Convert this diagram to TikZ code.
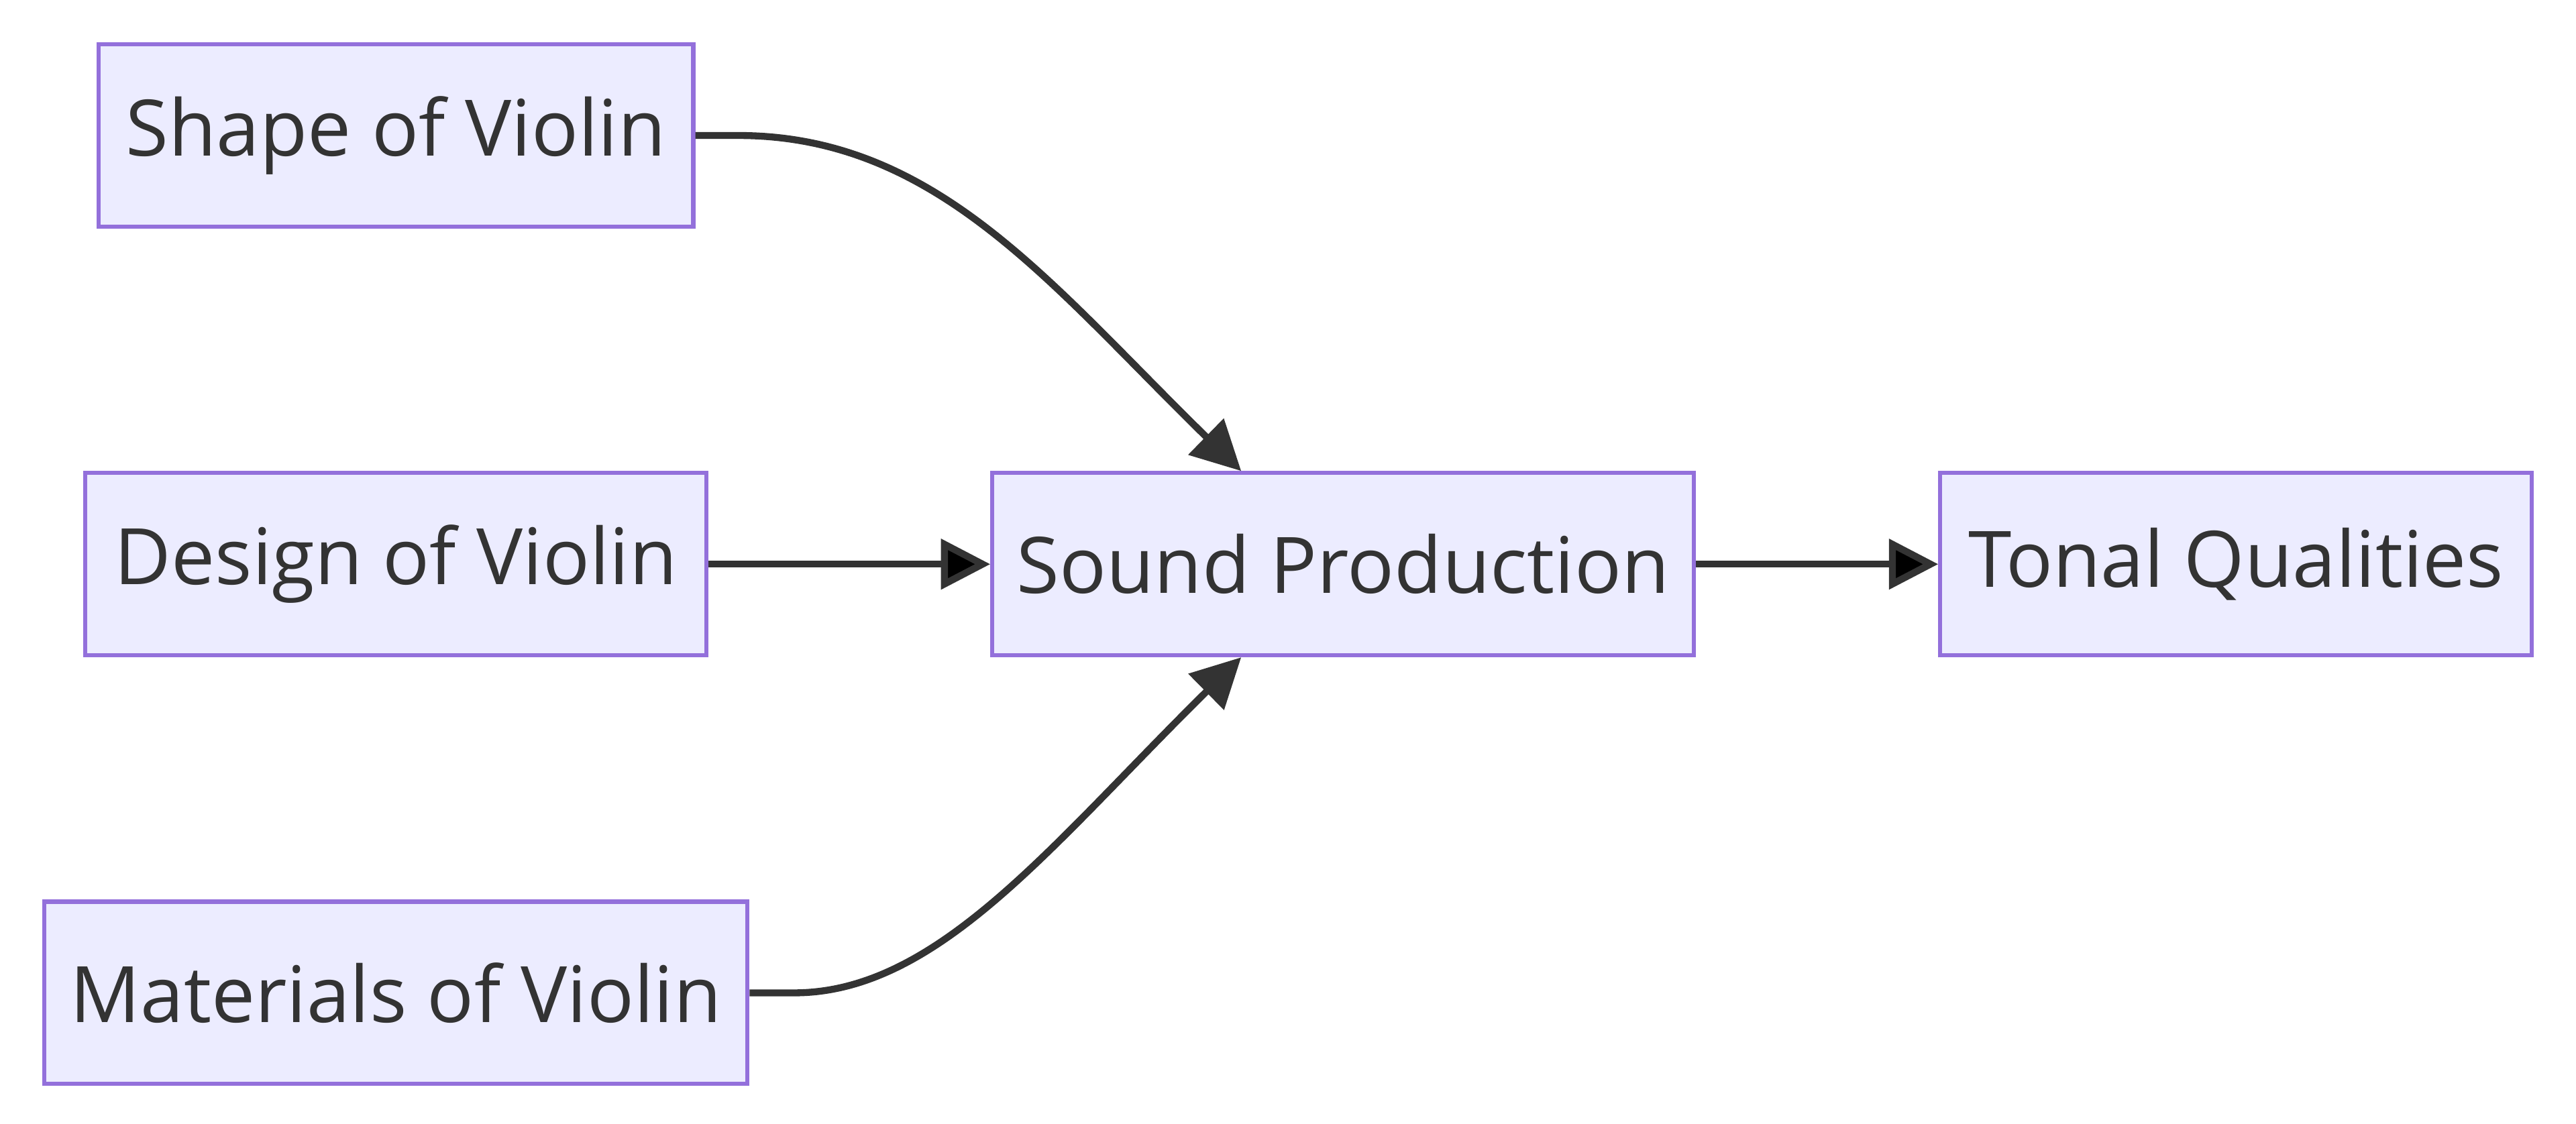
\documentclass[tikz,border=0pt]{standalone}
\usepackage{fontspec}
\setmainfont{Open Sans}
\usetikzlibrary{positioning,arrows.meta}
\definecolor{boxfill}{HTML}{ECECFF}
\definecolor{boxline}{HTML}{9370DB}
\definecolor{linkcol}{HTML}{333333}
\begin{document}
\begin{tikzpicture}[
    box/.style={draw=boxline,fill=boxfill,line width=0.7pt,minimum height=1.11cm,
        inner sep=0pt,text=linkcol,font=\fontsize{13.5}{16}\selectfont},
    link/.style={draw=linkcol,line width=1.2pt,-{Triangle[length=0.3cm,width=0.3cm]}}]
    \useasboundingbox (0,0) rectangle (15.68,6.84);
    \node[box,minimum width=3.62cm] (shape) at (2.41,6.015) {Shape of Violin};
    \node[box,minimum width=3.78cm] (design) at (2.41,3.405) {Design of Violin};
    \node[box,minimum width=4.28cm] (materials) at (2.41,0.795) {Materials of Violin};
    \node[box,minimum width=4.27cm] (sound) at (8.175,3.405) {Sound Production};
    \node[box,minimum width=3.60cm] (tonal) at (13.61,3.405) {Tonal Qualities};

    \path[link] (shape.east) -- ++(0.25,0) .. controls (5.7,6.02) and (6.4,5.1) .. ([xshift=-0.62cm]sound.north);
    \path[link] (materials.east) -- ++(0.25,0) .. controls (5.7,0.78) and (6.4,1.7) .. ([xshift=-0.62cm]sound.south);
    \path[link] (design) edge (sound)
                (sound) edge (tonal);
\end{tikzpicture}
\end{document}
